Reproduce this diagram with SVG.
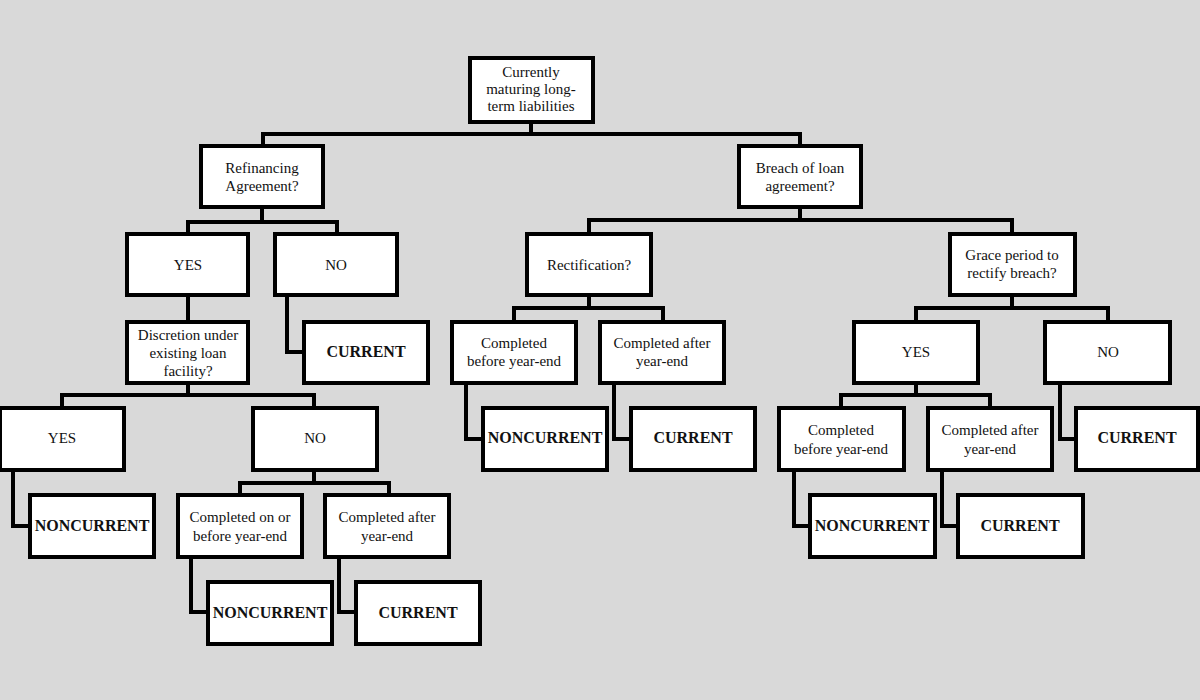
<svg xmlns="http://www.w3.org/2000/svg" width="1200" height="700" viewBox="0 0 1200 700">
<style>
rect.n{fill:#fff;stroke:#000;stroke-width:4}
text{font-family:"Liberation Serif","DejaVu Serif",serif;font-size:15px;text-anchor:middle;fill:#111}
text.b{font-weight:bold;font-size:16px}
#connectors path{fill:none;stroke:#000;stroke-width:4}
</style>
<rect width="1200" height="700" fill="#d9d9d9"/>
<g id="connectors">
<path d="M531 122V134M263 146V134H800V146"/>
<path d="M262 207V222M188 234V222H337V234"/>
<path d="M188 295V322"/>
<path d="M287 295V352H304"/>
<path d="M188 383V395M62 408V395H314V408"/>
<path d="M13 470V526H30"/>
<path d="M314 470V483M240 495V483H389V495"/>
<path d="M191 557V612H208"/>
<path d="M339 557V612H356"/>
<path d="M800 207V220M589 234V220H1012V234"/>
<path d="M589 295V308M514 322V308H663V322"/>
<path d="M466 383V439H483"/>
<path d="M614 383V439H631"/>
<path d="M1012 295V308M916 322V308H1108V322"/>
<path d="M1060 383V439H1076"/>
<path d="M916 383V395M841 408V395H990V408"/>
<path d="M794 470V526H810"/>
<path d="M942 470V526H958"/>
</g>
<g id="root"><rect class="n" x="470" y="58" width="123" height="64"/><text x="531" y="77">Currently</text><text x="531" y="94">maturing long-</text><text x="531" y="111">term liabilities</text></g>
<g id="refi"><rect class="n" x="201" y="146" width="122" height="61"/><text x="262" y="173">Refinancing</text><text x="262" y="191">Agreement?</text></g>
<g id="breach"><rect class="n" x="739" y="146" width="122" height="61"/><text x="800" y="173">Breach of loan</text><text x="800" y="191">agreement?</text></g>
<g id="yes1"><rect class="n" x="127" y="234" width="121" height="61"/><text x="188" y="270">YES</text></g>
<g id="no1"><rect class="n" x="275" y="234" width="122" height="61"/><text x="336" y="270">NO</text></g>
<g id="disc"><rect class="n" x="127" y="322" width="121" height="61"/><text x="188" y="340">Discretion under</text><text x="188" y="358">existing loan</text><text x="188" y="376">facility?</text></g>
<g id="cur1"><rect class="n" x="304" y="322" width="124" height="61"/><text class="b" x="366" y="357">CURRENT</text></g>
<g id="yes2"><rect class="n" x="0" y="408" width="124" height="62"/><text x="62" y="443">YES</text></g>
<g id="no2"><rect class="n" x="253" y="408" width="124" height="62"/><text x="315" y="443">NO</text></g>
<g id="nc1"><rect class="n" x="30" y="495" width="124" height="62"/><text class="b" x="92" y="531">NONCURRENT</text></g>
<g id="comp1"><rect class="n" x="178" y="495" width="124" height="62"/><text x="240" y="522">Completed on or</text><text x="240" y="541">before year-end</text></g>
<g id="comp2"><rect class="n" x="325" y="495" width="124" height="62"/><text x="387" y="522">Completed after</text><text x="387" y="541">year-end</text></g>
<g id="nc2"><rect class="n" x="208" y="582" width="124" height="62"/><text class="b" x="270" y="618">NONCURRENT</text></g>
<g id="cur2"><rect class="n" x="356" y="582" width="124" height="62"/><text class="b" x="418" y="618">CURRENT</text></g>
<g id="rect"><rect class="n" x="527" y="234" width="124" height="61"/><text x="589" y="270">Rectification?</text></g>
<g id="grace"><rect class="n" x="950" y="234" width="125" height="61"/><text x="1012" y="260">Grace period to</text><text x="1012" y="278">rectify breach?</text></g>
<g id="comp3"><rect class="n" x="452" y="322" width="124" height="61"/><text x="514" y="348">Completed</text><text x="514" y="366">before year-end</text></g>
<g id="comp4"><rect class="n" x="600" y="322" width="124" height="61"/><text x="662" y="348">Completed after</text><text x="662" y="366">year-end</text></g>
<g id="nc3"><rect class="n" x="483" y="408" width="124" height="62"/><text class="b" x="545" y="443">NONCURRENT</text></g>
<g id="cur3"><rect class="n" x="631" y="408" width="124" height="62"/><text class="b" x="693" y="443">CURRENT</text></g>
<g id="yes3"><rect class="n" x="854" y="322" width="124" height="61"/><text x="916" y="357">YES</text></g>
<g id="no3"><rect class="n" x="1045" y="322" width="125" height="61"/><text x="1108" y="357">NO</text></g>
<g id="cur4"><rect class="n" x="1076" y="408" width="122" height="62"/><text class="b" x="1137" y="443">CURRENT</text></g>
<g id="comp5"><rect class="n" x="779" y="408" width="125" height="62"/><text x="841" y="435">Completed</text><text x="841" y="454">before year-end</text></g>
<g id="comp6"><rect class="n" x="928" y="408" width="124" height="62"/><text x="990" y="435">Completed after</text><text x="990" y="454">year-end</text></g>
<g id="nc4"><rect class="n" x="810" y="495" width="125" height="62"/><text class="b" x="872" y="531">NONCURRENT</text></g>
<g id="cur5"><rect class="n" x="958" y="495" width="125" height="62"/><text class="b" x="1020" y="531">CURRENT</text></g>
</svg>
